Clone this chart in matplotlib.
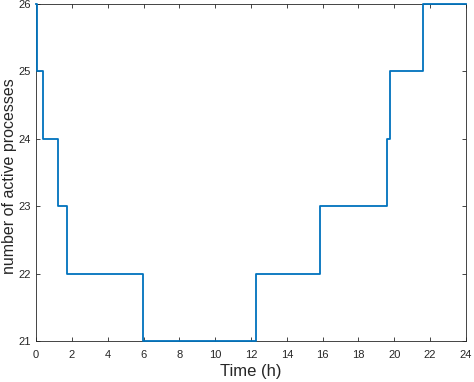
import matplotlib.pyplot as plt

plt.rcParams['font.family'] = ['Liberation Sans', 'DejaVu Sans']

# step change times (h) and number of active processes after each change
times = [0, 0.07, 0.41, 1.23, 1.73, 5.98, 12.28, 15.85, 19.62, 19.78, 21.58, 24]
procs = [26, 25, 24, 23, 22, 21, 22, 23, 24, 25, 26, 26]

fig = plt.figure(figsize=(4.74, 3.82), dpi=100)
ax = fig.add_axes([0.076, 0.107, 0.907, 0.883])
ax.step(times, procs, where='post', color='#0072BD', linewidth=1.3,
        clip_on=False, zorder=3)

ax.set_xlim(0, 24)
ax.set_ylim(21, 26)
ax.set_xticks(range(0, 25, 2))
ax.set_yticks(range(21, 27))
ax.tick_params(direction='in', top=True, right=True, labelsize=8,
               colors='#262626', length=3, width=0.6)
ax.tick_params(axis='x', pad=6.5)
for s in ax.spines.values():
    s.set_color('#262626')
    s.set_linewidth(0.6)

ax.set_xlabel('Time (h)', fontsize=12, color='#262626', labelpad=3)
ax.set_ylabel('number of active processes', fontsize=11.5, color='#262626')
ax.yaxis.set_label_coords(-0.045, 0.49)

fig.savefig('out.png', dpi=100)
